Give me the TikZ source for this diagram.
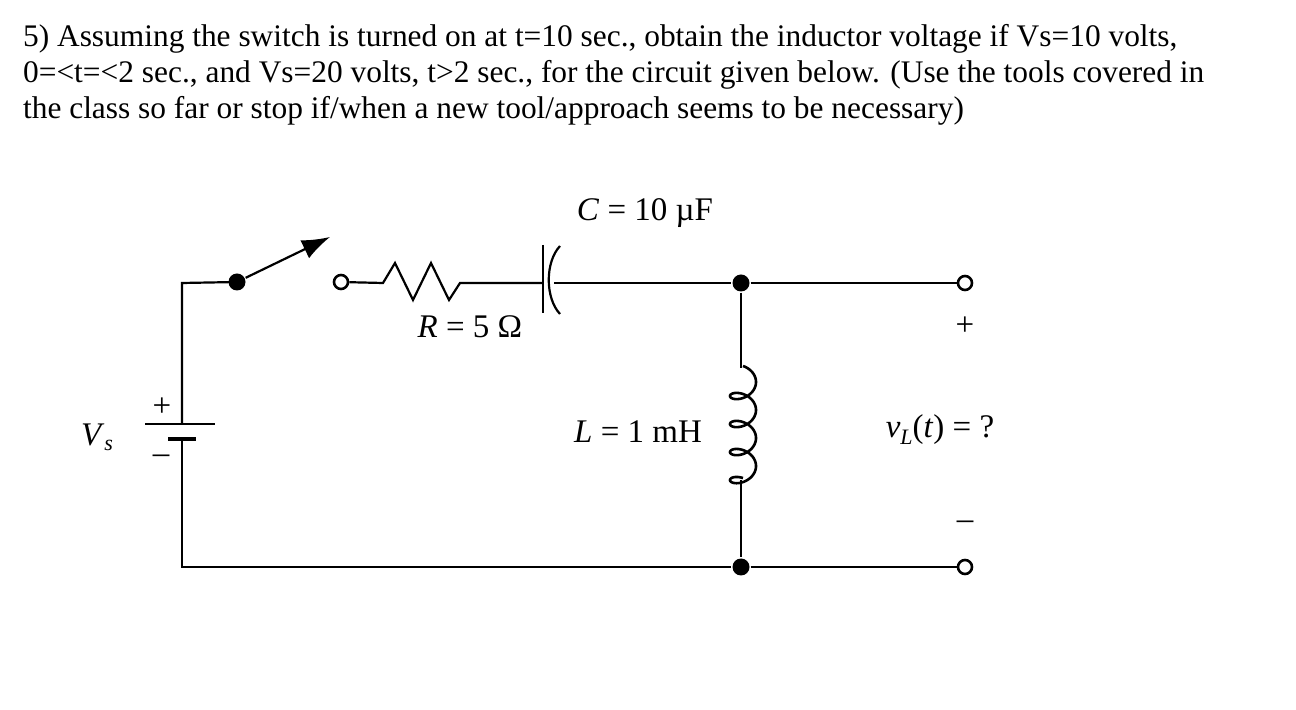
\documentclass[tikz,border=0pt]{standalone}
\usepackage{fontspec}
\setmainfont{Liberation Serif}
\usetikzlibrary{arrows.meta}
\begin{document}
\begin{tikzpicture}[x=0.5pt,y=-0.5pt,line width=1.1pt,
  dotn/.style={circle,fill,inner sep=0pt,minimum size=8.5pt},
  opn/.style={circle,draw,fill=white,inner sep=0pt,minimum size=7pt,line width=1.3pt},
  lbl/.style={font=\fontsize{16.5}{19}\selectfont,inner sep=0pt},
  txt/.style={font=\fontsize{15.7}{18}\selectfont,anchor=base west,inner sep=0pt}]
\useasboundingbox (0,0) rectangle (1296,710);
\node[txt] (t1) at (22,47) {5) Assuming the switch is turned on at t=10 sec., obtain the inductor voltage if Vs=10 volts,};
\node[txt] (t2) at (22,83) {0=<t=<2 sec., and Vs=20 volts, t>2 sec., for the circuit given below. (Use the tools covered in};
\node[txt] (t3) at (22,119) {the class so far or stop if/when a new tool/approach seems to be necessary)};
% coordinates
\coordinate (tl) at (182,283);
\coordinate (bt) at (182,424);
\coordinate (bb) at (182,439);
\coordinate (bl) at (182,567);
\node[dotn] (sw) at (237,282) {};
\coordinate (swt) at (330,237);
\node[opn] (so) at (341,282) {};
\coordinate (r1) at (383,283);
\coordinate (r2) at (460,283);
\coordinate (c1) at (543,283);
\coordinate (c2) at (554,283);
\node[dotn] (jt) at (741,283) {};
\node[dotn] (jb) at (741,567) {};
\node[opn] (ot) at (965,283) {};
\node[opn] (ob) at (965,567) {};
\coordinate (l1) at (741,368);
\coordinate (l2) at (741,480);
% wires
\draw (bt) -- (tl) -- (sw.center);
\draw[-{Latex[length=14pt,width=10pt]}] (sw) -- (swt);
\draw (so) -- (r1) -- ++(12,-20) -- ++(18,37) -- ++(18,-37) -- ++(18,37) -- (r2) -- (c1);
\draw (c1|-0,245) -- (c1|-0,313);
\draw (560,246) .. controls (545,262) and (545,298) .. (560,314);
\draw (c2) -- (jt) -- (ot);
\draw (bb) -- (bl) -- (jb) -- (ob);
\draw (jt) -- (l1);
\draw (l2) -- (jb);
\draw[line width=1.3pt] plot[domain=0:25.13,samples=300,smooth] ({743+13*sin(\x r)},{375+4.46*\x-9*cos(\x r)});
% battery
\draw (145,424) -- (215,424);
\draw[line width=1.6pt] (168,439) -- (196,439);
% labels
\node[lbl] (lc) at (645,213) {\textit{C} = 10 µF};
\node[lbl] (lr) at (470,327) {\textit{R} = 5 Ω};
\node[lbl] (lp) at (965,326) {+};
\node[lbl] (lv) at (97,437) {\textit{V}\raisebox{-0.35ex}{\fontsize{11}{12}\selectfont\textit{s}}};
\node[lbl] (bp) at (162,407) {+};
\node[lbl] (bm) at (161,459) {–};
\node[lbl] (ll) at (638,432) {\textit{L} = 1 mH};
\node[lbl] (lvl) at (940,430) {\textit{v}\raisebox{-0.45ex}{\fontsize{11}{12}\selectfont\textit{L}}(\textit{t}) = ?};
\node[lbl] (lm) at (965,525) {–};
\end{tikzpicture}
\end{document}
